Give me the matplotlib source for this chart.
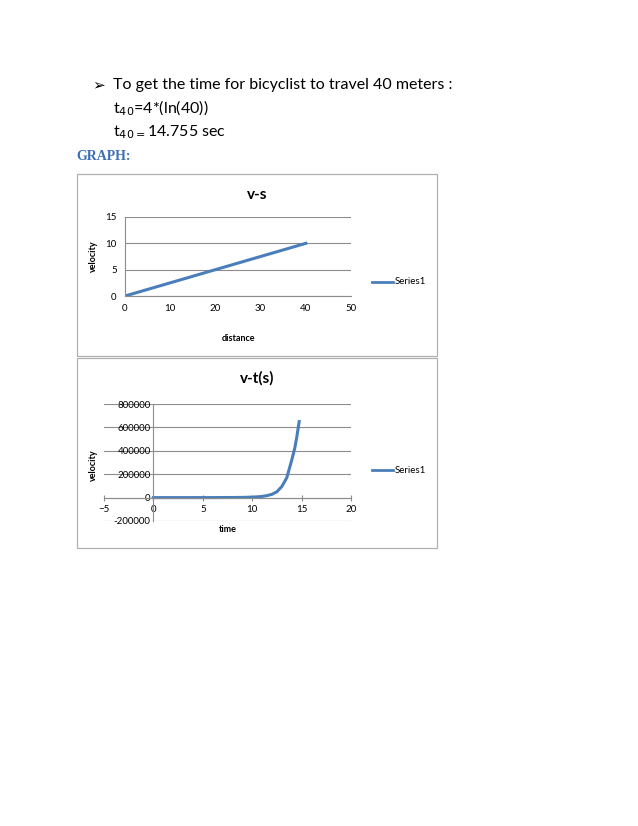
import matplotlib
matplotlib.use("Agg")
import matplotlib.pyplot as plt
from matplotlib.patches import Rectangle
from matplotlib.lines import Line2D

plt.rcParams['font.family'] = ['Lato', 'DejaVu Sans']

# chart 1: v-s
dist = [0, 10, 20, 30, 40]
vel_s = [0, 2.5, 5, 7.5, 10]
xt1 = [0, 10, 20, 30, 40, 50]
yt1 = [0, 5, 10, 15]
# chart 2: v-t(s)
time = [0, 2, 4, 6, 8, 9, 10, 10.5, 11, 11.5, 12, 12.5, 13, 13.5, 14, 14.3, 14.5, 14.755]
vel_t = [0, 0, 0, 200, 900, 1800, 4000, 6500, 10000, 17000, 28000, 50000, 95000, 170000, 320000, 420000, 510000, 650000]
xt2 = [-5, 0, 5, 10, 15, 20]
yt2 = [-200000, 0, 200000, 400000, 600000, 800000]

W, H = 638, 826
fig = plt.figure(figsize=(W/100, H/100), dpi=100)

def fx(x): return x / W
def fy(y): return 1 - y / H

BLUE = '#4a7ebb'
GRID = '#8c8c8c'

# page text
fig.text(fx(92), fy(85), '➢', fontsize=11, va='center', family=['DejaVu Sans'])
fig.text(fx(113), fy(85), 'To get the time for bicyclist to travel 40 meters :', fontsize=11.5, va='center')
fig.text(fx(113), fy(108), r't$_{40}$=4*(ln(40))', fontsize=11.5, va='center')
fig.text(fx(113), fy(132), r't$_{40=}$14.755 sec', fontsize=11.5, va='center')
fig.text(fx(76), fy(157), 'GRAPH:', fontsize=10, va='center', weight='bold',
         color='#3d6eb5', family=['Liberation Serif'])

# chart frames
for (y0, y1) in [(174, 356), (358, 548)]:
    fig.patches.append(Rectangle((fx(77), fy(y1)), fx(437) - fx(77), fy(y0) - fy(y1),
                                 transform=fig.transFigure, fill=False, edgecolor='#b0b0b0', lw=0.9))

def legend(y):
    fig.add_artist(Line2D([fx(372), fx(393)], [fy(y), fy(y)], transform=fig.transFigure, color=BLUE, lw=2))
    fig.text(fx(395), fy(y), 'Series1', fontsize=7, va='center')

# chart 1
ax1 = fig.add_axes([fx(125), fy(296), fx(351) - fx(125), fy(217) - fy(296)])
ax1.plot(dist, vel_s, color=BLUE, lw=2.2)
ax1.set_xlim(0, 50); ax1.set_ylim(0, 15)
ax1.set_xticks(xt1); ax1.set_yticks(yt1)
ax1.yaxis.grid(True, color=GRID, lw=0.8)
ax1.set_axisbelow(True)
for s in ['top', 'right']:
    ax1.spines[s].set_visible(False)
for s in ['left', 'bottom']:
    ax1.spines[s].set_color(GRID); ax1.spines[s].set_linewidth(0.8)
ax1.tick_params(length=0, labelsize=7, pad=6)
fig.text(fx(257), fy(195), 'v-s', fontsize=11, weight='bold', ha='center', va='center')
fig.text(fx(238), fy(339), 'distance', fontsize=6.5, weight='bold', ha='center', va='center')
fig.text(fx(93), fy(256), 'velocity', fontsize=6.5, weight='bold', ha='center', va='center', rotation=90)
legend(282)

# chart 2
ax2 = fig.add_axes([fx(104), fy(521), fx(351) - fx(104), fy(404) - fy(521)])
ax2.plot(time, vel_t, color=BLUE, lw=2.2)
ax2.set_xlim(-5, 20); ax2.set_ylim(-200000, 800000)
ax2.set_xticks(xt2); ax2.set_yticks(yt2)
ax2.set_yticklabels([str(v) for v in yt2])
ax2.yaxis.grid(True, color=GRID, lw=0.8)
ax2.set_axisbelow(True)
for s in ['top', 'right']:
    ax2.spines[s].set_visible(False)
ax2.spines['left'].set_position(('data', 0))
ax2.spines['bottom'].set_position(('data', 0))
for s in ['left', 'bottom']:
    ax2.spines[s].set_color(GRID); ax2.spines[s].set_linewidth(0.8)
ax2.tick_params(axis='y', length=0, labelsize=7, pad=2)
ax2.tick_params(axis='x', length=4, direction='inout', color=GRID, labelsize=7, pad=3)
fig.text(fx(257), fy(378), 'v-t(s)', fontsize=11, weight='bold', ha='center', va='center')
fig.text(fx(228), fy(530), 'time', fontsize=6.5, weight='bold', ha='center', va='center')
fig.text(fx(93), fy(465), 'velocity', fontsize=6.5, weight='bold', ha='center', va='center', rotation=90)
legend(470)

fig.savefig('out.png', dpi=100)
